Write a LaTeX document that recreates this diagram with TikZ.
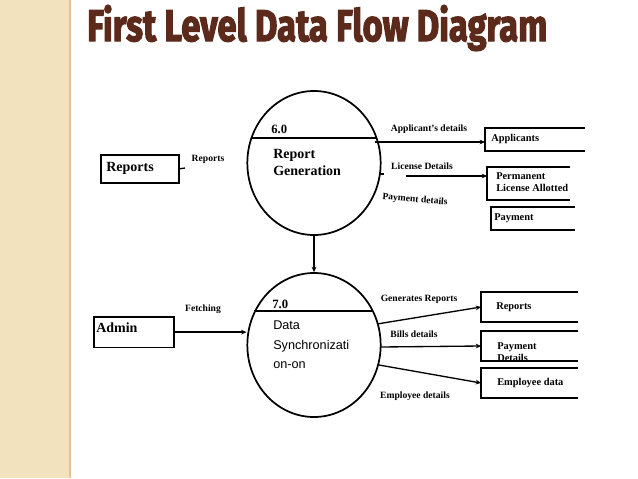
\documentclass[tikz,border=0pt]{standalone}
\usepackage{fontspec}
\setmainfont{Liberation Serif}
\newfontfamily\sansf{Liberation Sans}
\newfontfamily\titlef[FakeBold=3]{Fira Sans}
\usetikzlibrary{arrows.meta,shapes.geometric}
\definecolor{band}{HTML}{F3E2BE}
\definecolor{ttl}{HTML}{5C2A1A}
\begin{document}
\begin{tikzpicture}[x=0.75pt,y=-0.75pt,
  proc/.style={draw,line width=1.3pt,ellipse,inner sep=0,minimum width=100pt,minimum height=108pt},
  ext/.style={draw,line width=1.2pt,anchor=north west,inner sep=0},
  lbl/.style={font=\bfseries\fontsize{7.2}{8}\selectfont,inner sep=0},
  stl/.style={font=\bfseries\fontsize{7.8}{9}\selectfont,anchor=west,inner sep=0,align=left},
  flow/.style={line width=1pt,-{Stealth[length=4pt,width=3.5pt]}},
  ]
\useasboundingbox (0,0) rectangle (638,478);
\fill[band] (0,0) rectangle (70,478);
\draw[band!70!brown,line width=1pt] (70,0) -- (70,478);
\node[anchor=west,inner sep=0,text=ttl] (title) at (87,28) {\resizebox{345pt}{27pt}{\titlef\bfseries First Level Data Flow Diagram}};
% processes
\node[proc] (p6) at (314,163) {};
\node[proc] (p7) at (314,345) {};
\draw[line width=1.2pt] (251,138) -- (377,138);
\draw[line width=1.2pt] (254,311) -- (373,311);
\node[anchor=west,font=\bfseries\fontsize{9.5}{10}\selectfont,inner sep=0] (n6) at (271,129) {6.0};
\node[anchor=north west,font=\bfseries\fontsize{10.5}{12.5}\selectfont,align=left,inner sep=0] (t6) at (273,149) {Report\\Generation};
\node[anchor=west,font=\bfseries\fontsize{9.5}{10}\selectfont,inner sep=0] (n7) at (272,304) {7.0};
\node[anchor=north west,font=\sansf\fontsize{9.5}{14.3}\selectfont,align=left,inner sep=0] (t7) at (273,321) {Data\\Synchronizati\\on-on};
\draw[flow] (p6.south) -- (p7.north);
% external entities
\node[ext,minimum width=58.5pt,minimum height=21pt] (rep) at (100,154) {};
\node[anchor=west,font=\bfseries\fontsize{10.5}{12}\selectfont,inner sep=0] at (106,168) {Reports};
\node[ext,minimum width=60pt,minimum height=23pt] (adm) at (93,316) {};
\node[anchor=west,font=\bfseries\fontsize{10.5}{12}\selectfont,inner sep=0] at (96,328) {Admin};
\coordinate (rs) at (185,168);
\draw[line width=1pt] (rep.east) -- (rs);
\node[lbl] at (208,159) {Reports};
\draw[flow] (adm.east) -- (p7.west |- adm.east);
\node[lbl] at (203,309) {Fetching};
% stores
\newcommand{\store}[5]{% name x y w h
  \draw[line width=1.2pt] (#2+#4,#3) -- (#2,#3) -- (#2,#3+#5) -- (#2+#4,#3+#5);
  \coordinate (#1) at (#2,#3+#5/2);}
\store{sa}{485}{128}{100}{23}
\node[stl] at (491,139) {Applicants};
\store{sl}{487}{167}{83}{33}
\node[stl] at (496,182) {Permanent\\License Allotted};
\store{sp}{491}{207}{84}{23}
\node[stl] at (494,218) {Payment};
\store{sr}{481}{292}{97}{30}
\node[stl] at (496,307) {Reports};
\store{sd}{481}{331}{97}{30}
\begin{scope}
\clip (481,331) rectangle (578,360);
\node[stl] at (497,352) {Payment\\Details};
\end{scope}
\store{se}{481}{368}{97}{30}
\node[stl] at (497,383) {Employee data};
% flows
\draw[flow] (375,142) -- (sa |- 0,142);
\node[lbl] at (429,129) {Applicant's details};
\draw[line width=1pt] (380,174) -- (384,174);
\coordinate (ls) at (406,176);
\draw[flow] (ls) -- (sl |- 0,176);
\node[lbl] at (422,166) {License Details};
\node[lbl,rotate=-5] at (415,200) {Payment details};
\draw[flow] (377,324) -- (sr);
\node[lbl] at (419,299) {Generates Reports};
\draw[flow] (381,347) -- (sd);
\node[lbl] at (414,334) {Bills details};
\draw[flow] (379,365) -- (se);
\node[lbl] at (415,396) {Employee details};
\end{tikzpicture}
\end{document}
